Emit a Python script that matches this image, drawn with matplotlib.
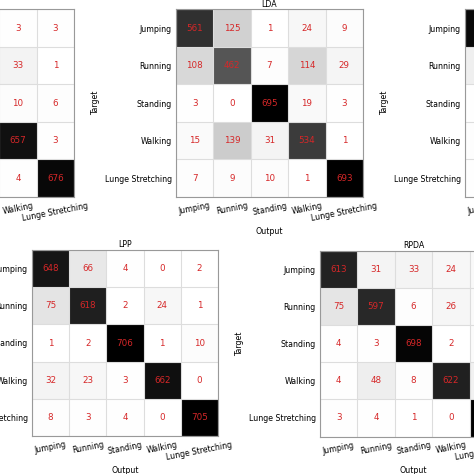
import numpy as np
import matplotlib
matplotlib.use("Agg")
import matplotlib.pyplot as plt

classes = ["Jumping", "Running", "Standing", "Walking", "Lunge Stretching"]

# Top-left panel (only the last two columns are visible in the reference)
cm_topleft = [
    [690, 20, 4, 3, 3],
    [40, 640, 6, 33, 1],
    [2, 1, 701, 10, 6],
    [20, 35, 5, 657, 3],
    [10, 20, 10, 4, 676],
]
cm_lda = [
    [561, 125, 1, 24, 9],
    [108, 462, 7, 114, 29],
    [3, 0, 695, 19, 3],
    [15, 139, 31, 534, 1],
    [7, 9, 10, 1, 693],
]
# Top-right panel (only the first column edge is visible)
cm_topright = [
    [680, 30, 2, 6, 2],
    [45, 650, 5, 18, 2],
    [3, 2, 700, 10, 5],
    [6, 20, 4, 688, 2],
    [4, 3, 2, 1, 710],
]
cm_lpp = [
    [648, 66, 4, 0, 2],
    [75, 618, 2, 24, 1],
    [1, 2, 706, 1, 10],
    [32, 23, 3, 662, 0],
    [8, 3, 4, 0, 705],
]
cm_rpda = [
    [613, 31, 33, 24, 19],
    [75, 597, 6, 26, 16],
    [4, 3, 698, 2, 13],
    [4, 48, 8, 622, 38],
    [3, 4, 1, 0, 712],
]

W = H = 474
fig = plt.figure(figsize=(W / 100, H / 100), dpi=100)
fig.patch.set_facecolor("white")

LABEL_FS = 5.7
NUM_FS = 6.3


def px_axes(left, top, width, height):
    return fig.add_axes([left / W, 1 - (top + height) / H, width / W, height / H])


def draw(ax, cm, title):
    cm = np.array(cm)
    n = len(classes)
    ax.imshow(cm, cmap="gray_r", vmin=0, vmax=cm.max(), aspect="auto",
              interpolation="nearest")
    for i in range(n):
        for j in range(n):
            ax.text(j, i, str(cm[i, j]), ha="center", va="center",
                    color="#d62728", fontsize=NUM_FS)
    ax.set_xticks(range(n))
    ax.set_yticks(range(n))
    ax.set_xticklabels(classes, rotation=11, ha="center", fontsize=LABEL_FS)
    ax.set_yticklabels(classes, fontsize=LABEL_FS)
    ax.set_xticks(np.arange(-0.5, n, 1), minor=True)
    ax.set_yticks(np.arange(-0.5, n, 1), minor=True)
    ax.grid(which="minor", color="#dddddd", linewidth=0.8)
    ax.tick_params(which="both", length=0)
    ax.tick_params(axis="x", pad=3)
    ax.tick_params(axis="y", pad=3)
    for s in ax.spines.values():
        s.set_color("#999999")
        s.set_linewidth(0.8)
    ax.set_xlabel("Output", fontsize=LABEL_FS, labelpad=3)
    ax.set_ylabel("Target", fontsize=LABEL_FS, labelpad=3)
    if title:
        ax.set_title(title, fontsize=LABEL_FS, pad=2)


draw(px_axes(-113, 9.5, 187, 187.5), cm_topleft, "")
draw(px_axes(176, 9.5, 187, 187.5), cm_lda, "LDA")
draw(px_axes(465, 9.5, 187, 187.5), cm_topright, "")
draw(px_axes(32, 250, 186, 186), cm_lpp, "LPP")
draw(px_axes(320, 250.5, 187, 186), cm_rpda, "RPDA")

fig.savefig("out.png", dpi=100, facecolor="white")
